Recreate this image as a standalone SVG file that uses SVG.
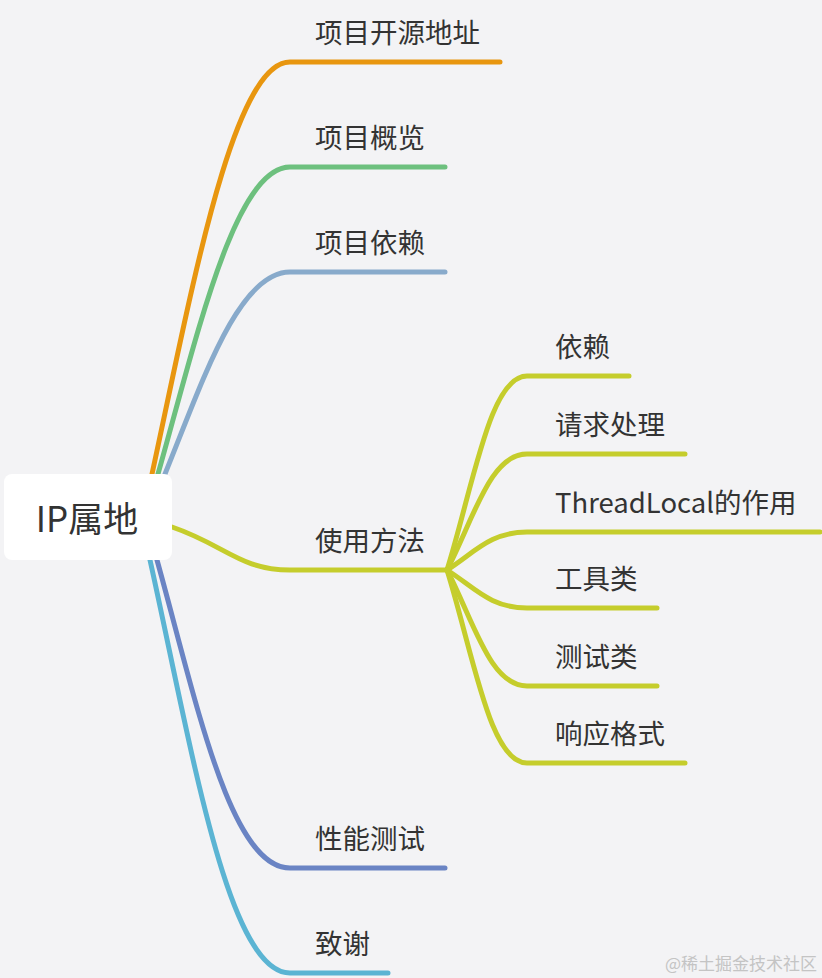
<svg xmlns="http://www.w3.org/2000/svg" width="822" height="978" viewBox="0 0 822 978">
<style>
.c{fill:none;stroke-width:5;stroke-linecap:round;stroke-linejoin:round}
.t{font-family:"Noto Sans CJK SC","Noto Sans",sans-serif;font-size:27.5px;fill:#333}
.y{stroke:#c5cd2c}
</style>
<rect x="0" y="0" width="822" height="978" fill="#f3f3f5"/>
<g id="connectors">
<path class="c" stroke="#e8960f" d="M152 474 C192 289 233 62 290 62 L500 62"/>
<path class="c" stroke="#6dc07e" d="M158 474 C197 336 235 167 290 167 L445 167"/>
<path class="c" stroke="#88aacb" d="M165 474 C202 383 238 272 290 272 L445 272"/>
<path class="c y" d="M172 527 C225 545 240 570 290 570 L447 570"/>
<path class="c" stroke="#6a84c4" d="M157 560 C196 700 230 868 290 868 L445 868"/>
<path class="c" stroke="#5bb4d3" d="M150 560 C192 750 228 973 290 973 L388 973"/>
<path class="c y" d="M447 570 C474 483 490 376 527 376 L629 376"/>
<path class="c y" d="M447 570 C474 518 490 454 527 454 L685 454"/>
<path class="c y" d="M447 570 C474 553 490 532 527 532 L820 532"/>
<path class="c y" d="M447 570 C474 587 490 608 527 608 L657 608"/>
<path class="c y" d="M447 570 C474 622 490 686 527 686 L657 686"/>
<path class="c y" d="M447 570 C474 657 490 763 527 763 L685 763"/>
</g>
<g id="root">
<rect x="4" y="474" width="168" height="86" rx="8" fill="#ffffff"/>
<text x="87" y="532" text-anchor="middle" class="t" style="font-size:35px">IP属地</text>
</g>
<g id="n1"><text class="t" x="315" y="43">项目开源地址</text></g>
<g id="n2"><text class="t" x="315" y="148">项目概览</text></g>
<g id="n3"><text class="t" x="315" y="253">项目依赖</text></g>
<g id="n4"><text class="t" x="315" y="551">使用方法</text></g>
<g id="n4a"><text class="t" x="555" y="357">依赖</text></g>
<g id="n4b"><text class="t" x="555" y="435">请求处理</text></g>
<g id="n4c"><text class="t" x="555" y="513">ThreadLocal的作用</text></g>
<g id="n4d"><text class="t" x="555" y="589">工具类</text></g>
<g id="n4e"><text class="t" x="555" y="667">测试类</text></g>
<g id="n4f"><text class="t" x="555" y="744">响应格式</text></g>
<g id="n5"><text class="t" x="315" y="849">性能测试</text></g>
<g id="n6"><text class="t" x="315" y="954">致谢</text></g>
<text x="817" y="970" text-anchor="end" style="font-family:'Noto Sans CJK SC',sans-serif;font-size:17px;fill:#c4c4c4">@稀土掘金技术社区</text>
</svg>
